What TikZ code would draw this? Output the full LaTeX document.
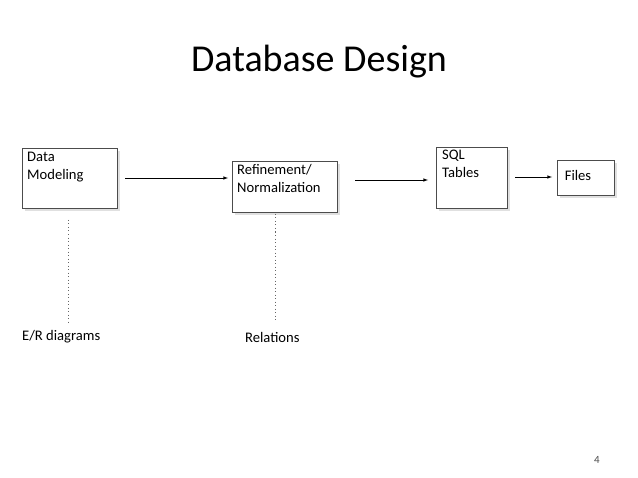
\documentclass[tikz,border=0pt]{standalone}
\usepackage{fontspec}
\setmainfont{Carlito}
\begin{document}
\begin{tikzpicture}[x=1bp,y=-1bp,
  box/.style={draw=black!70,line width=0.6bp,fill=white},
  txt/.style={font=\fontsize{14.6bp}{18bp}\selectfont,align=left,anchor=north west,inner sep=0pt},
  arr/.style={-latex,line width=0.6bp},
  dot/.style={line width=0.6bp,dash pattern=on 1bp off 2.5bp,black!60}]
\useasboundingbox[fill=white] (0,0) rectangle (638,478);
\node[font=\fontsize{38bp}{44bp}\selectfont] (title) at (319,62) {Database Design};
\foreach \a/\b/\c/\d in {22/148/117/208,232/161/337/212,436/147/507/208,557/160/614/195}
  \fill[black!12] (\a+3,\b+3) rectangle (\c+3,\d+3);
\draw[box] (22,148) rectangle (117,208);
\node[inner sep=0pt,minimum width=95bp,minimum height=60bp] (dm) at (69.5,178) {};
\node[txt] at (27,152) {Data\\Modeling};
\draw[box] (232,161) rectangle (337,212);
\node[inner sep=0pt,minimum width=105bp,minimum height=51bp] (rn) at (284.5,186.5) {};
\node[txt] at (237,164) {Refinement/\\Normalization};
\draw[box] (436,147) rectangle (507,208);
\node[inner sep=0pt,minimum width=71bp,minimum height=61bp] (sql) at (471.5,177.5) {};
\node[txt] at (442,150) {SQL\\Tables};
\draw[box] (557,160) rectangle (614,195);
\node[inner sep=0pt,minimum width=57bp,minimum height=35bp] (files) at (585.5,177.5) {};
\node[txt,anchor=center] at (578,175) {Files};
\coordinate (a1s) at (125,178); \coordinate (a1e) at (228,178);
\coordinate (a2s) at (355,180); \coordinate (a2e) at (428,180);
\coordinate (a3s) at (515,177); \coordinate (a3e) at (552,177);
\draw[arr] (a1s) -- (a1e);
\draw[arr] (a2s) -- (a2e);
\draw[arr] (a3s) -- (a3e);
\node[txt,anchor=west] (er) at (22,337) {E/R diagrams};
\node[txt,anchor=west] (rel) at (245,337) {Relations};
\draw[dot] (68,220) -- (68,325);
\draw[dot] (275,214) -- (275,322);
\node[font=\fontsize{11bp}{12bp}\selectfont,text=black!70] (pg) at (597,460) {4};
\end{tikzpicture}
\end{document}
